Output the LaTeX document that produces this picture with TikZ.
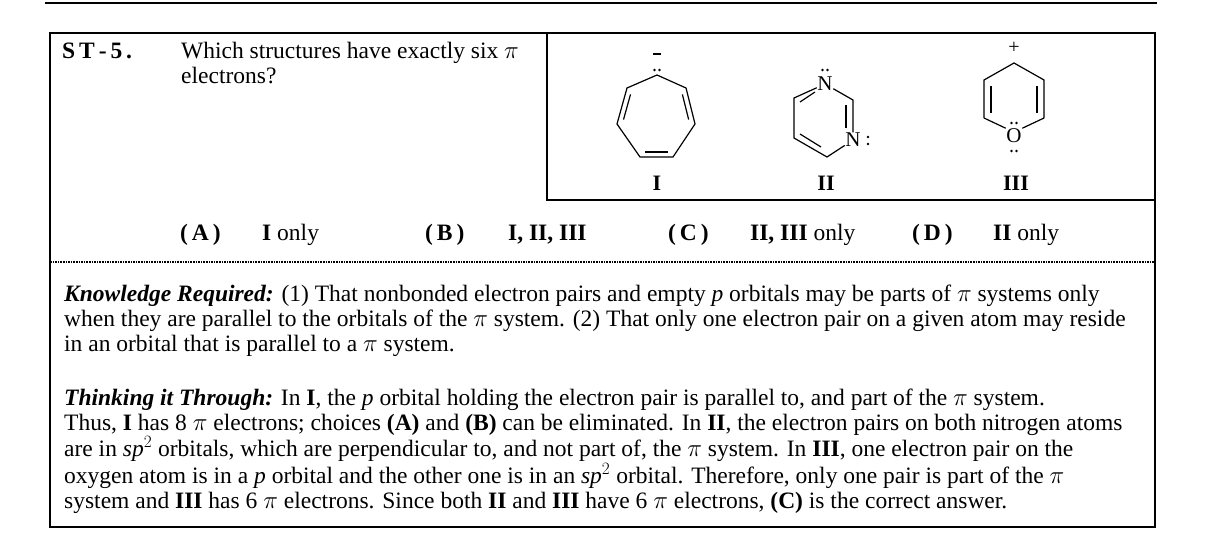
\documentclass[tikz,border=0pt]{standalone}
\usepackage{fontspec}
\usetikzlibrary{calc}
\setmainfont{Liberation Serif}
\newcommand{\pii}{$\pi$}
\begin{document}
\begin{tikzpicture}[x=1pt,y=-1pt,
  txt/.style={anchor=base west,inner sep=0pt,font=\fontsize{23.5}{25}\selectfont},
  btxt/.style={txt,font=\bfseries\fontsize{23.5}{25}\selectfont},
  para/.style={anchor=north west,inner sep=0pt,align=left,font=\fontsize{23.5}{25}\selectfont},
  atom/.style={inner sep=0.5pt,font=\fontsize{21}{21}\selectfont},
  bond/.style={line width=1.2pt},
  lbl/.style={inner sep=0pt,font=\bfseries\fontsize{22}{22}\selectfont}]
\useasboundingbox (0,0) rectangle (1206,549);
\draw[line width=2pt] (45,3) -- (1157,3);
\draw[line width=1.3pt] (50,33) rectangle (1155,527);
\draw[line width=1.3pt] (547,33) |- (1155,200);
\draw[line width=1.6pt,densely dotted] (50,262) -- (1155,262);
% question
\node[btxt] (st) at (62,58) {S\,T\,-\,5\,.};
\node[txt] (q1) at (181,58) {Which structures have exactly six \pii};
\node[txt] (q2) at (181,83) {electrons?};
% options
\node[btxt] (oa) at (180,240) {(\,A\,)};
\node[txt] (ta) at (262,240) {\textbf{I} only};
\node[btxt] (ob) at (425,240) {(\,B\,)};
\node[txt] (tb) at (508,240) {\textbf{I, II, III}};
\node[btxt] (oc) at (668,240) {(\,C\,)};
\node[txt] (tc) at (750,240) {\textbf{II, III} only};
\node[btxt] (od) at (912,240) {(\,D\,)};
\node[txt] (td) at (993,240) {\textbf{II} only};
% paragraphs
\node[para] (k) at (64,285) {\textbf{\textit{Knowledge Required:}} (1) That nonbonded electron pairs and empty \textit{p} orbitals may be parts of \pii{} systems only\\
when they are parallel to the orbitals of the \pii{} system. (2) That only one electron pair on a given atom may reside\\
in an orbital that is parallel to a \pii{} system.};
\node[para] (t) at (64,389) {\textbf{\textit{Thinking it Through:}} In \textbf{I}, the \textit{p} orbital holding the electron pair is parallel to, and part of the \pii{} system.\\
Thus, \textbf{I} has 8 \pii{} electrons; choices \textbf{(A)} and \textbf{(B)} can be eliminated. In \textbf{II}, the electron pairs on both nitrogen atoms\\
are in \textit{sp}$^2$ orbitals, which are perpendicular to, and not part of, the \pii{} system. In \textbf{III}, one electron pair on the\\
oxygen atom is in a \textit{p} orbital and the other one is in an \textit{sp}$^2$ orbital. Therefore, only one pair is part of the \pii\\
system and \textbf{III} has 6 \pii{} electrons. Since both \textbf{II} and \textbf{III} have 6 \pii{} electrons, \textbf{(C)} is the correct answer.};
% molecule I
\coordinate (a1) at (657,75);
\coordinate (a2) at (686,88);
\coordinate (a3) at (695,124);
\coordinate (a4) at (673,157);
\coordinate (a5) at (640,157);
\coordinate (a6) at (617,124);
\coordinate (a7) at (627,88);
\draw[bond] (a1)--(a2)--(a3)--(a4)--(a5)--(a6)--(a7)--cycle;
\draw[bond] ($(a2)!0.15!(a3)+(-5,1)$) -- ($(a2)!0.85!(a3)+(-5,1)$);
\draw[bond] ($(a6)!0.15!(a7)+(5,1)$) -- ($(a6)!0.85!(a7)+(5,1)$);
\draw[bond] ($(a4)!0.15!(a5)+(0,-5)$) -- ($(a4)!0.85!(a5)+(0,-5)$);
\fill (654.5,70) circle (1.3pt) (659.5,70) circle (1.3pt);
\draw[line width=1.2pt] (653,54) -- (661,54);
\node[lbl] (l1) at (657,183) {I};
% molecule II
\node[atom] (n1) at (825,84) {N};
\node[atom] (n3) at (853,140) {N};
\coordinate (b2) at (853,100);
\coordinate (b4) at (827,157);
\coordinate (b5) at (794,138);
\coordinate (b6) at (794,98);
\draw[bond] (n1) -- (b2) -- (n3) -- (b4) -- (b5) -- (b6) -- (n1);
\draw[bond] (846,105) -- (846,128);
\draw[bond] (800,102) -- (815,92);
\draw[bond] (800,134) -- (821,147);
\fill (822.5,70) circle (1.3pt) (827.5,70) circle (1.3pt);
\fill (868,137) circle (1.3pt) (868,144) circle (1.3pt);
\node[lbl] (l2) at (826,183) {II};
% molecule III
\coordinate (c1) at (1014,63);
\coordinate (c2) at (1044,80);
\coordinate (c3) at (1044,118);
\node[atom] (o) at (1014,136) {O};
\coordinate (c5) at (984,118);
\coordinate (c6) at (984,80);
\draw[bond] (c5) -- (c6) -- (c1) -- (c2) -- (c3);
\draw[bond] (c3) -- (o.north east);
\draw[bond] (c5) -- (o.north west);
\draw[bond] (1037,86) -- (1037,113);
\draw[bond] (991,86) -- (991,113);
\fill (1011.5,123) circle (1.3pt) (1016.5,123) circle (1.3pt);
\fill (1011.5,151) circle (1.3pt) (1016.5,151) circle (1.3pt);
\node[font=\fontsize{20}{20}\selectfont,inner sep=0pt] (plus) at (1014,48) {+};
\node[lbl] (l3) at (1016,183) {III};
\end{tikzpicture}
\end{document}
